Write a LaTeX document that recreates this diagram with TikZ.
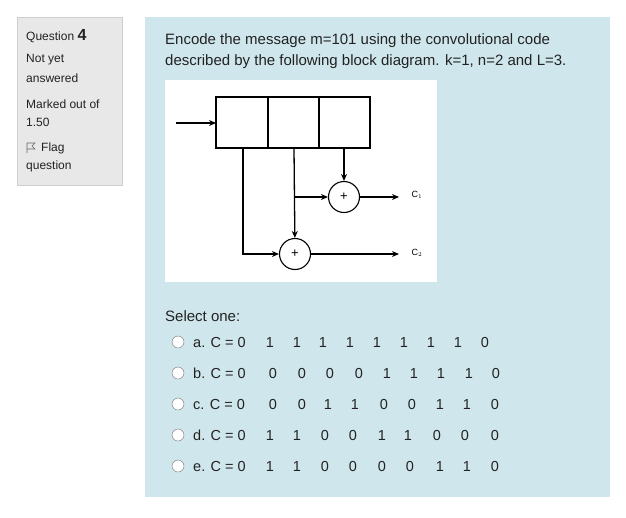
\documentclass[tikz,border=0pt]{standalone}
\usepackage{fontspec}
\setmainfont{Liberation Sans}
\usetikzlibrary{arrows.meta}
\definecolor{panel}{HTML}{CFE7EC}
\definecolor{side}{HTML}{E8E8E8}
\definecolor{sideb}{HTML}{CFCFCF}
\definecolor{txt}{HTML}{222222}
\begin{document}
\begin{tikzpicture}[x=1pt,y=-1pt,
  lbl/.style={anchor=west,inner sep=0,text=txt,font=\fontsize{15}{18}\selectfont},
  small/.style={anchor=west,inner sep=0,text=txt,font=\fontsize{12}{14}\selectfont},
  opt/.style={anchor=base west,inner sep=0,text=txt,font=\fontsize{14.5}{17}\selectfont},
  dig/.style={anchor=base,inner sep=0,text=txt,font=\fontsize{14.5}{17}\selectfont},
  radio/.style={circle,draw=black!55,fill=white,minimum size=12pt,inner sep=0},
  wire/.style={line width=1.3pt,black},
  arr/.style={wire,-{Stealth[length=7pt,width=6pt]}},
  adder/.style={circle,draw,line width=1.1pt,minimum size=31pt,inner sep=0,font=\fontsize{13}{13}\selectfont}]
\useasboundingbox (0,0) rectangle (626,517);
\fill[white] (0,0) rectangle (626,517);
% side panel
\filldraw[fill=side,draw=sideb] (17,17) rectangle (122,185);
\node[small,anchor=base west] (q) at (26,40) {Question \fontsize{16}{16}\selectfont\textbf{4}};
\node[small] (s1) at (26,60) {Not yet};
\node[small] (s2) at (26,78) {answered};
\node[small] (s3) at (26,104) {Marked out of};
\node[small] (s4) at (26,122) {1.50};
\draw[black!60,line width=0.6pt] (27,153) -- (27,143) -- (35,143) -- (32,146) -- (35,149) -- (27,149);
\node[small] (s5) at (41,148) {Flag};
\node[small] (s6) at (26,166) {question};
% main panel
\fill[panel] (145,17) rectangle (610,497);
\node[lbl] (t1) at (165,41) {Encode the message m=101 using the convolutional code};
\node[lbl] (t2) at (165,62) {described by the following block diagram. k=1, n=2 and L=3.};
% diagram
\fill[white] (165,80) rectangle (437,282);
\draw[line width=1.1pt] (216,97) rectangle (370,148);
\draw[line width=1.1pt] (268,97) -- (268,148) (319,97) -- (319,148);
\coordinate (in) at (176,123);
\coordinate (reg) at (216,123);
\draw[arr] (in) -- (reg);
\node[adder] (a1) at (344,197) {+};
\node[adder] (a2) at (295,254) {+};
\coordinate (t1s) at (243,148);
\coordinate (t2s) at (294,148);
\coordinate (t3s) at (344,148);
\draw[arr] (t3s) -- (a1);
\draw[arr] (t2s) -- (a2);
\draw[arr] (294,197) -- (a1);
\draw[arr] (t1s) -- (243,254) -- (a2);
\coordinate (o1) at (399,197);
\coordinate (o2) at (399,254);
\draw[arr] (a1) -- (o1);
\draw[arr] (a2) -- (o2);
\node[inner sep=0,font=\fontsize{9}{9}\selectfont] (c1) at (417,195) {C$_1$};
\node[inner sep=0,font=\fontsize{9}{9}\selectfont] (c2) at (417,253) {C$_2$};
% options
\node[lbl] (sel) at (165,316) {Select one:};
\foreach \y/\l/\ds/\xs in {
 347/a/{1,1,1,1,1,1,1,1,0}/{270,297,323,350,377,404,431,458,485},
 378/b/{0,0,0,0,1,1,1,1,0}/{273,302,330,359,387,414,441,469,496},
 409/c/{0,0,1,1,0,0,1,1,0}/{273,302,328,355,384,412,440,467,495},
 440/d/{1,1,0,0,1,1,0,0,0}/{270,297,325,353,382,408,437,465,495},
 471/e/{1,1,0,0,0,0,1,1,0}/{270,297,325,353,382,410,440,467,495}}{
  \node[radio] (r\l) at (178,\y-5) {};
  \node[opt] (o\l) at (193,\y) {\l. C = 0};
  \foreach \d [count=\i] in \ds {
    \pgfmathsetmacro\xx{{\xs}[\i-1]}
    \node[dig] (d\l\i) at (\xx,\y) {\d};
  }
}
\end{tikzpicture}
\end{document}
